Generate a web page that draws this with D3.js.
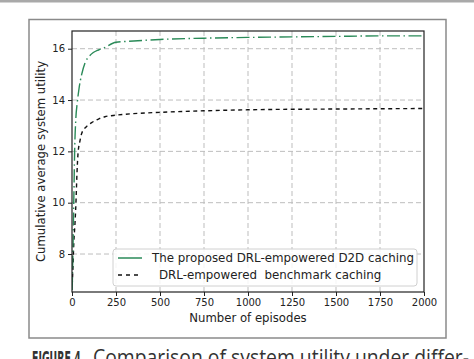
<!DOCTYPE html>
<html>
<head>
<meta charset="utf-8">
<script src="https://cdn.jsdelivr.net/npm/d3@7"></script>
<style>
html,body{margin:0;padding:0;background:#fff;}
svg{display:block;}
text{font-family:"DejaVu Sans",sans-serif;fill:#222;}
</style>
</head>
<body>
<svg id="chart" width="474" height="359"></svg>
<script>
const xTicks = [0, 250, 500, 750, 1000, 1250, 1500, 1750, 2000];
const yTicks = [8, 10, 12, 14, 16];
const seriesNames = ["The proposed DRL-empowered D2D caching", "DRL-empowered  benchmark caching"];

const episodesProposed = [1, 5, 10, 15, 22, 30, 40, 55, 74, 95, 121, 150, 178, 250, 350, 500, 750, 1000, 1250, 1500, 1750, 2000];
const valuesProposed   = [6.6, 8.0, 10.0, 12.0, 13.3, 13.9, 14.45, 15.0, 15.45, 15.68, 15.85, 15.95, 16.02, 16.25, 16.3, 16.36, 16.41, 16.44, 16.46, 16.48, 16.5, 16.5];

const episodesBench = [1, 5, 10, 17, 23, 28, 34, 45, 55, 80, 112, 150, 187, 235, 350, 500, 750, 1000, 1250, 1500, 1750, 2000];
const valuesBench   = [6.8, 7.4, 8.4, 9.2, 10.1, 11.1, 11.9, 12.4, 12.7, 12.95, 13.12, 13.26, 13.35, 13.4, 13.47, 13.52, 13.58, 13.62, 13.64, 13.65, 13.66, 13.67];

const svg = d3.select("#chart");

// top gray strip
svg.append("rect").attr("x", 0).attr("y", 0).attr("width", 474).attr("height", 2.5).attr("fill", "#a9a9a9");
// outer figure frame
svg.append("rect").attr("x", 29).attr("y", 19.5).attr("width", 417).attr("height", 318.5)
  .attr("fill", "none").attr("stroke", "#8a8a8a").attr("stroke-width", 1.5);

const m = {left: 72, top: 31, right: 424, bottom: 292};
const x = d3.scaleLinear().domain([0, 2000]).range([m.left, m.right]);
const y = d3.scaleLinear().domain([6.52, 16.69]).range([m.bottom, m.top]);

// grid
const g = svg.append("g");
g.selectAll(".vg").data(xTicks.slice(1, -1)).join("line")
  .attr("x1", d => x(d)).attr("x2", d => x(d)).attr("y1", m.top).attr("y2", m.bottom)
  .attr("stroke", "#bdbdbd").attr("stroke-width", 1).attr("stroke-dasharray", "5,3");
g.selectAll(".hg").data(yTicks).join("line")
  .attr("x1", m.left).attr("x2", m.right).attr("y1", d => y(d)).attr("y2", d => y(d))
  .attr("stroke", "#bdbdbd").attr("stroke-width", 1).attr("stroke-dasharray", "5,3");

// axes
const xAxis = d3.axisBottom(x).tickValues(xTicks).tickSize(4).tickPadding(3).tickFormat(d3.format("d"));
const yAxis = d3.axisLeft(y).tickValues(yTicks).tickSize(4).tickPadding(3).tickFormat(d3.format("d"));
const gx = svg.append("g").attr("transform", `translate(0,${m.bottom})`).call(xAxis);
const gy = svg.append("g").attr("transform", `translate(${m.left},0)`).call(yAxis);
[gx, gy].forEach(a => {
  a.select(".domain").remove();
  a.selectAll(".tick line").attr("stroke", "#222");
  a.selectAll(".tick text").attr("font-size", "10px").attr("font-family", "DejaVu Sans").attr("fill", "#222");
});

// lines
const clip = svg.append("clipPath").attr("id", "clip").append("rect")
  .attr("x", m.left).attr("y", m.top).attr("width", m.right - m.left).attr("height", m.bottom - m.top);
const line = d3.line().x(d => x(d[0])).y(d => y(d[1])).curve(d3.curveMonotoneX);
const dataProposed = episodesProposed.map((e, i) => [e, valuesProposed[i]]);
const dataBench = episodesBench.map((e, i) => [e, valuesBench[i]]);

svg.append("path").datum(dataBench).attr("d", line).attr("clip-path", "url(#clip)")
  .attr("fill", "none").attr("stroke", "#111").attr("stroke-width", 1.4).attr("stroke-dasharray", "4,3.5");
svg.append("path").datum(dataProposed).attr("d", line).attr("clip-path", "url(#clip)")
  .attr("fill", "none").attr("stroke", "#2a8a58").attr("stroke-width", 1.4).attr("stroke-dasharray", "13,3.5,1.5,3.5");

// plot frame
svg.append("rect").attr("x", m.left).attr("y", m.top).attr("width", m.right - m.left).attr("height", m.bottom - m.top)
  .attr("fill", "none").attr("stroke", "#222").attr("stroke-width", 1.2);

// legend
const lg = svg.append("g");
lg.append("rect").attr("x", 113).attr("y", 249).attr("width", 304).attr("height", 37).attr("rx", 3)
  .attr("fill", "#fff").attr("fill-opacity", 0.85).attr("stroke", "#d0d0d0").attr("stroke-width", 1);
lg.append("line").attr("x1", 118).attr("x2", 142).attr("y1", 258).attr("y2", 258)
  .attr("stroke", "#2a8a58").attr("stroke-width", 1.5);
lg.append("line").attr("x1", 118).attr("x2", 142).attr("y1", 275).attr("y2", 275)
  .attr("stroke", "#111").attr("stroke-width", 1.5).attr("stroke-dasharray", "4,4");
lg.append("text").attr("x", 152).attr("y", 262).attr("font-size", "11.85px").text(seriesNames[0]);
lg.append("text").attr("x", 159).attr("y", 279).attr("font-size", "11.85px").style("white-space", "pre").text(seriesNames[1]);

// axis labels
svg.append("text").attr("x", 248).attr("y", 322).attr("text-anchor", "middle").attr("font-size", "11.7px").text("Number of episodes");
svg.append("text").attr("transform", "translate(45,161.5) rotate(-90)").attr("text-anchor", "middle")
  .attr("font-size", "11.7px").text("Cumulative average system utility");

// caption (cut off at bottom, as in the reference)
svg.append("g").attr("transform", "translate(32,365) scale(0.47,1)")
  .append("text").attr("x", 0).attr("y", 0).attr("font-size", "20px").attr("font-weight", "bold")
  .style("fill", "#333").text("FIGURE 4.");
svg.append("text").attr("x", 93).attr("y", 365).attr("font-size", "21px")
  .style("font-family", "'Open Sans', sans-serif")
  .attr("textLength", 376).attr("lengthAdjust", "spacingAndGlyphs").style("fill", "#333")
  .text("Comparison of system utility under differ-");
</script>
</body>
</html>
